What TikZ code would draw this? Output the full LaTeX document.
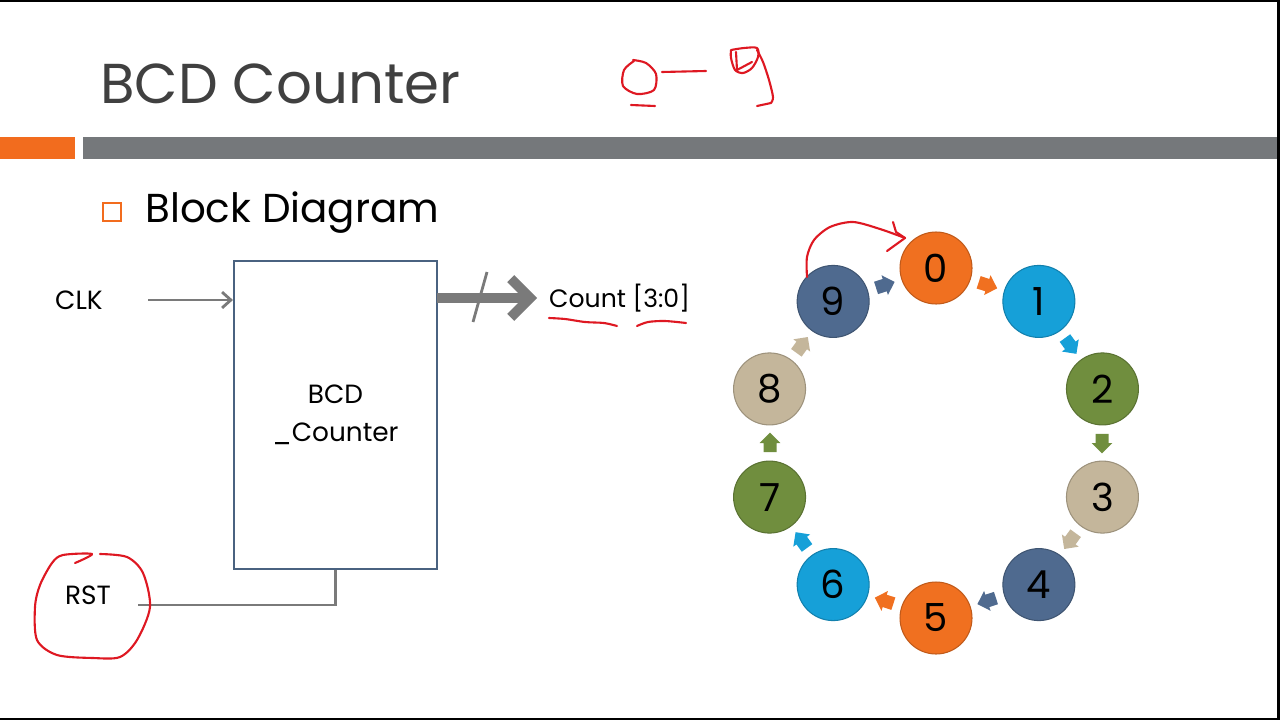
\documentclass[tikz,border=0pt]{standalone}
\usepackage{fontspec}
\setmainfont{Poppins}
\usetikzlibrary{arrows.meta,positioning,calc}

\definecolor{titlegray}{RGB}{64,64,64}
\definecolor{bargray}{RGB}{117,120,123}
\definecolor{barorange}{RGB}{242,108,30}
\definecolor{wiregray}{RGB}{122,122,122}
\definecolor{boxblue}{RGB}{74,98,128}
\definecolor{redink}{RGB}{222,24,34}
\definecolor{corange}{RGB}{240,112,32}
\definecolor{cblue}{RGB}{22,160,216}
\definecolor{cgreen}{RGB}{112,142,62}
\definecolor{ctan}{RGB}{196,182,155}
\definecolor{csteel}{RGB}{79,106,143}

\tikzset{
    digit/.style={circle, minimum size=1.44cm, inner sep=0pt, text=black,
        font=\fontsize{22}{22}\selectfont},
    label/.style={font=\fontsize{15}{18}\selectfont, text=black},
    wire/.style={draw=wiregray, line width=1.6pt},
    ink/.style={draw=redink, line width=1.2pt, line cap=round, line join=round},
}

\begin{document}
\begin{tikzpicture}[x=0.02cm, y=-0.02cm, >={Straight Barb[length=5pt, width=9pt]}]
    \useasboundingbox (0,0) rectangle (1280,720);

    % screen frame
    \fill[black] (0,0) rectangle (1280,2);
    \fill[black] (0,718) rectangle (1280,720);
    \fill[black] (1277,0) rectangle (1280,720);

    % heading and bars
    \node[anchor=base west, inner sep=0pt, text=titlegray,
        font=\fontsize{32}{32}\selectfont] (title) at (100,103) {BCD Counter};
    \fill[barorange] (0,137) rectangle (75,159);
    \fill[bargray] (83,137) rectangle (1277,159);

    \draw[barorange, line width=1.3pt] (103,203) rectangle (121,221);
    \node[anchor=base west, inner sep=0pt, text=black,
        font=\fontsize{23}{23}\selectfont] (bullet) at (145,222) {Block Diagram};

    % block diagram
    \node[draw=boxblue, line width=1.2pt, minimum width=4.06cm, minimum height=6.16cm,
        align=center, label, font=\fontsize{15}{21.5}\selectfont] (blk) at (335.5,415) {BCD\\\_Counter};

    \node[label] (clk) at (79,300) {CLK};
    \coordinate (clkin) at (148,300);
    \draw[wire, ->] (clkin) -- (clkin -| blk.west);

    \node[label, anchor=west, font=\fontsize{14.3}{18}\selectfont] (cnt) at (543,298) {Count [3:0]};
    \coordinate (out) at (437,298);
    \draw[draw=wiregray, line width=5.6pt, -{Straight Barb[length=11pt, width=22pt]}]
        (out) -- ([xshift=-0.12cm]cnt.west);
    \draw[wire] (473,322) -- (487,272);

    \node[label] (rst) at (88,595) {RST};
    \coordinate (rstout) at (138,605);
    \draw[wire] (rstout) -- (rstout -| blk.south) -- (blk.south);

    % counting ring
    \foreach \i/\c in {0/corange,1/cblue,2/cgreen,3/ctan,4/csteel,5/corange,6/cblue,7/cgreen,8/ctan,9/csteel}
        \node[digit, fill=\c, draw=\c!80!black, line width=0.6pt] (n\i)
            at ({936+175*cos(90-36*\i)}, {443-175*sin(90-36*\i)}) {\i};

    \foreach \i/\c in {0/corange,1/cblue,2/cgreen,3/ctan,4/csteel,5/corange,6/cblue,7/cgreen,8/ctan,9/csteel}
        \fill[\c, shift={({936+166*cos(72-36*\i)}, {443-166*sin(72-36*\i)})}, rotate=-18-36*\i, scale=1.3]
            (-7,-5) -- (0,-5) -- (0,-8) -- (8,0) -- (0,8) -- (0,5) -- (-7,5) -- cycle;

    % red pen notes
    \draw[ink] plot[smooth] coordinates {(634,61) (624,70) (623,86) (637,94) (654,90) (656,74) (646,63) (633,60)};
    \draw[ink] (631,105) -- (655,106);
    \draw[ink] (662,72) -- (706,71);
    \draw[ink] plot[smooth] coordinates {(731,50) (744,48) (757,48) (758,57) (752,68) (743,73) (735,70) (731,58) (731,50)};
    \draw[ink] (736,52) -- (737,70) -- (752,62);
    \draw[ink] plot[smooth] coordinates {(757,50) (763,62) (769,80) (773,97) (771,103)} -- (757,106);

    \draw[ink] plot[smooth] coordinates {(549,318) (565,319) (585,322) (604,323) (617,326)};
    \draw[ink] plot[smooth] coordinates {(637,326) (648,322) (665,321) (686,323)};

    \draw[ink] plot[smooth] coordinates {(75,563) (92,554) (63,555) (52,563) (40,585) (35,607) (37,640)
        (57,655) (93,658) (120,657) (137,640) (150,607) (143,573) (127,557) (100,554)};

    \draw[ink] plot[smooth] coordinates {(807,277) (807,257) (814,240) (830,227) (853,222) (880,229) (905,238)};
    \draw[ink] (893,222) -- (896,232) -- (905,238) -- (887,251);
\end{tikzpicture}
\end{document}
